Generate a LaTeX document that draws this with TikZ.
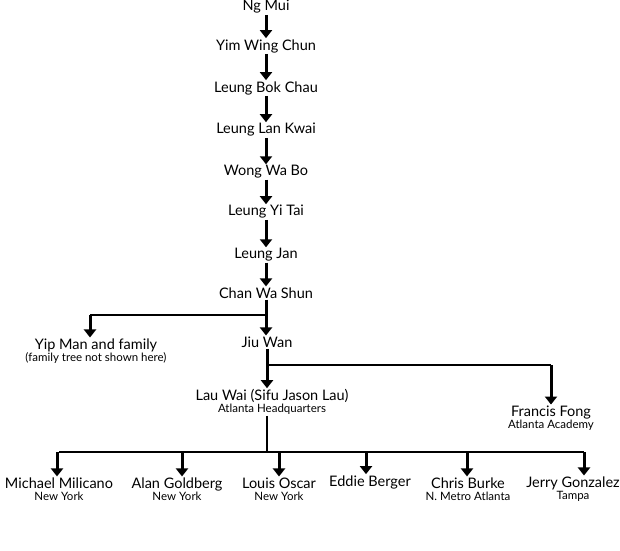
\documentclass[tikz,border=0pt]{standalone}
\usepackage{fontspec}
\setmainfont{Lato}
\usetikzlibrary{arrows.meta}

\newcommand{\sublabel}{\fontsize{11.5}{12}\selectfont}

\begin{document}
\begin{tikzpicture}[x=1pt,y=-1pt,
    person/.style={align=center, inner sep=1pt, font=\fontsize{14.5}{15}\selectfont},
    arr/.style={line width=3pt, -{Triangle[width=12pt,length=8pt]}},
    link/.style={line width=2.5pt}]
    \useasboundingbox (0,0) rectangle (620,550);
    % Linaje
    \node[person] (ng) at (266,7) {Ng Mui};
    \node[person] (yim) at (266,46) {Yim Wing Chun};
    \node[person] (bok) at (266,88) {Leung Bok Chau};
    \node[person] (lan) at (266,130) {Leung Lan Kwai};
    \node[person] (wong) at (266,172) {Wong Wa Bo};
    \node[person] (yitai) at (266,212) {Leung Yi Tai};
    \node[person] (jan) at (266,255) {Leung Jan};
    \node[person] (chan) at (266,293) {Chan Wa Shun};
    \node[person] (jiu) at (267,342) {Jiu Wan};
    \node[person] (yip) at (96,351) {Yip Man and family\\[-3pt]{\sublabel (family tree not shown here)}};
    \node[person] (lau) at (272,402) {Lau Wai (Sifu Jason Lau)\\[-3pt]{\sublabel Atlanta Headquarters}};
    \node[person] (fong) at (551,418) {Francis Fong\\[-3pt]{\sublabel Atlanta Academy}};

    % Alumnos
    \node[person] (mike) at (59,489) {Michael Milicano\\[-3pt]{\sublabel New York}};
    \node[person] (alan) at (177,489) {Alan Goldberg\\[-3pt]{\sublabel New York}};
    \node[person] (louis) at (279,489) {Louis Oscar\\[-3pt]{\sublabel New York}};
    \node[person] (eddie) at (370,482) {Eddie Berger};
    \node[person] (chris) at (468,489) {Chris Burke\\[-3pt]{\sublabel N. Metro Atlanta}};
    \node[person] (jerry) at (573,489) {Jerry Gonzalez\\[-3pt]{\sublabel Tampa}};

    \coordinate (split1) at (266,315);
    \coordinate (split2) at (267,365);
    \coordinate (split3) at (267,452);

    % Flechas
    \draw[arr] (ng) -- (yim);
    \draw[arr] (yim) -- (bok);
    \draw[arr] (bok) -- (lan);
    \draw[arr] (lan) -- (wong);
    \draw[arr] (wong) -- (yitai);
    \draw[arr] (yitai) -- (jan);
    \draw[arr] (jan) -- (chan);
    \draw[arr] (chan) -- (chan |- jiu.north);
    \draw[link] (chan.south |- split1) -- ([xshift=-6pt]split1 -| yip);
    \draw[arr] ([xshift=-6pt]split1 -| yip) -- ([xshift=-6pt]yip.north);
    \draw[arr] (jiu) -- (jiu |- lau.north);
    \draw[link] (split2) -- (split2 -| fong);
    \draw[arr] (split2 -| fong) -- (fong);
    \draw[link] (jiu.south |- lau.south) -- (split3);
    \draw[link] (mike |- split3) -- ([xshift=11pt]jerry |- split3);
    \foreach \s/\dx in {mike/-2,alan/5,louis/0,eddie/-4,chris/-1,jerry/11}
        \draw[arr] ([xshift=\dx pt]\s.north |- split3) -- ([xshift=\dx pt]\s.north);

\end{tikzpicture}
\end{document}
